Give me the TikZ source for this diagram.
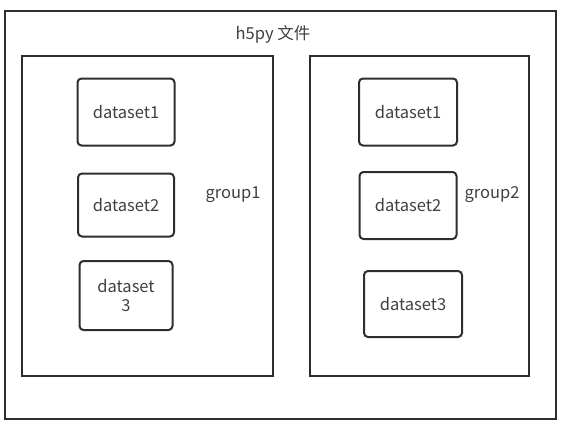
\documentclass[tikz,border=0pt]{standalone}
\usepackage{fontspec}
\setmainfont{Noto Sans CJK SC}
\begin{document}
\begin{tikzpicture}[x=1pt,y=-1pt,
  frame/.style={draw=black!82, line width=2pt, inner sep=0pt},
  dsbox/.style={draw=black!82, line width=2pt, rounded corners=4pt, inner sep=0pt, align=center, font=\fontsize{16.5}{19}\selectfont, text=black!75},
  lbl/.style={font=\fontsize{16.5}{19}\selectfont, text=black!75, inner sep=0pt}]
\useasboundingbox (0,0) rectangle (574,426);
\node[frame, minimum width=551pt, minimum height=408pt] (file) at (280.5,214.5) {};
\node[lbl] (title) at (273,34) {h5py 文件};
\node[frame, minimum width=251pt, minimum height=320pt] (g1) at (147.5,216) {};
\node[frame, minimum width=219pt, minimum height=320pt] (g2) at (419,216) {};
\node[lbl] (g1l) at (233,195) {group1};
\node[lbl] (g2l) at (492,195) {group2};
\node[dsbox, minimum width=97pt, minimum height=67pt] (a1) at (126,112) {dataset1};
\node[dsbox, minimum width=96pt, minimum height=63pt] (a2) at (126,205) {dataset2};
\node[dsbox, minimum width=93pt, minimum height=69pt] (a3) at (126,295.5) {dataset\\3};
\node[dsbox, minimum width=98pt, minimum height=67pt] (b1) at (408,112) {dataset1};
\node[dsbox, minimum width=97pt, minimum height=67pt] (b2) at (408,205.5) {dataset2};
\node[dsbox, minimum width=98pt, minimum height=66pt] (b3) at (413,304) {dataset3};
\end{tikzpicture}
\end{document}
